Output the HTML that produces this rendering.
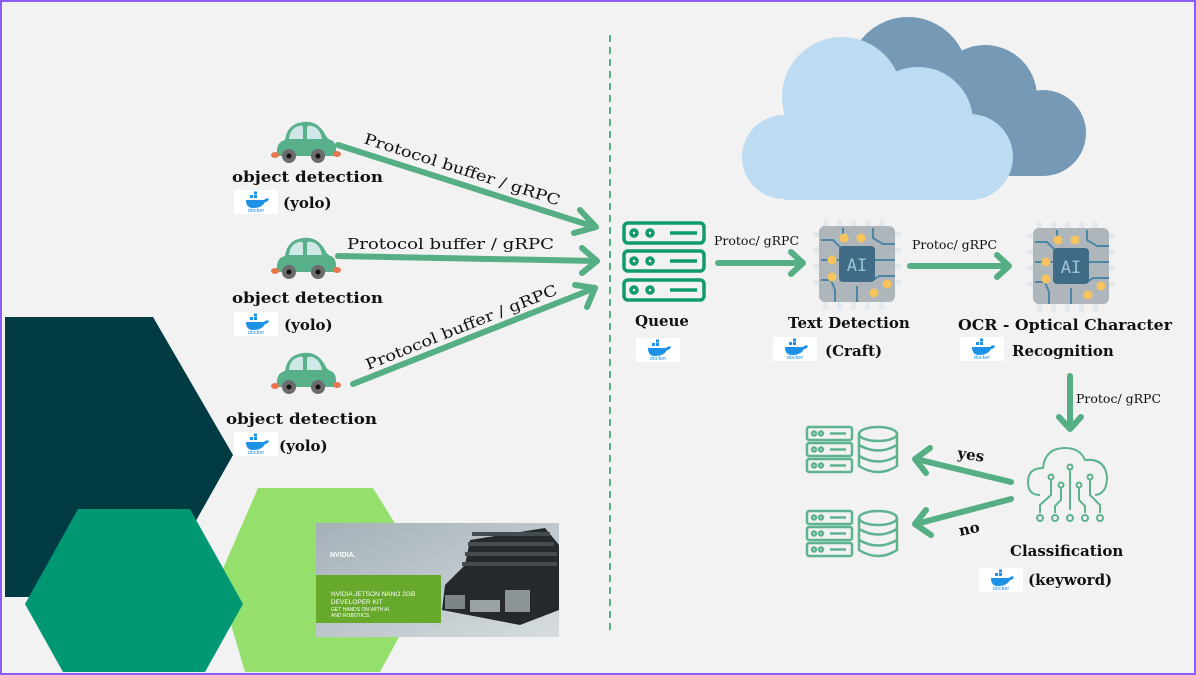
<!DOCTYPE html>
<html><head><meta charset="utf-8"><style>
html,body{margin:0;padding:0;background:#f2f2f2}
svg{display:block}
.b,.n,.s{font-family:"DejaVu Serif","Liberation Serif",serif}
.b{font-weight:bold;font-size:15px;fill:#111}
.n{font-size:15px;fill:#111}
.s{font-size:12.5px;fill:#111}
.sans{font-family:"Liberation Sans",sans-serif}
</style></head><body>
<svg width="1196" height="675" viewBox="0 0 1196 675" xmlns="http://www.w3.org/2000/svg">
<defs>
<g id="car">
 <path d="M6,34 Q5,22 14,20 Q16,4 32,2 Q46,0 54,14 Q56,19 60,20 Q65,22 65,30 L65,36 L6,36 Z" fill="#58b08a"/>
 <path d="M18,19 Q19,8 28,6 Q31,5 32,7 L32,19 Z" fill="#cfe7e6"/>
 <path d="M36,19 L36,7 Q37,5 41,6 Q49,8 51,19 Z" fill="#cfe7e6"/>
 <circle cx="18" cy="36" r="7" fill="#6b6b6b"/><circle cx="18" cy="36" r="2.5" fill="#111"/>
 <circle cx="47" cy="36" r="7" fill="#6b6b6b"/><circle cx="47" cy="36" r="2.5" fill="#111"/>
 <ellipse cx="4" cy="35" rx="4" ry="3" fill="#e8764c"/><ellipse cx="66" cy="34" rx="4" ry="3" fill="#e8764c"/>
</g>
<g id="dock">
 <rect x="0" y="0" width="44" height="24" fill="#fff"/>
 <path d="M12,10 h18 q3,-3 5,-1 q-1,3 -4,3 q-3,6 -12,6 q-7,0 -7,-8z" fill="#1d91e6"/>
 <rect x="16" y="5" width="3" height="3" fill="#1d91e6"/><rect x="20" y="5" width="3" height="3" fill="#1d91e6"/><rect x="20" y="1.5" width="3" height="3" fill="#1d91e6"/>
 <text class="sans" x="22" y="22" font-size="5.5" fill="#1d91e6" text-anchor="middle">docker</text>
</g>
<g id="chip">
 <g fill="#e2e8ec">
  <rect x="10" y="0" width="5" height="8" rx="2"/><rect x="24" y="0" width="5" height="8" rx="2"/><rect x="38" y="0" width="5" height="8" rx="2"/><rect x="52" y="0" width="5" height="8" rx="2"/><rect x="66" y="0" width="5" height="8" rx="2"/>
  <rect x="10" y="82" width="5" height="8" rx="2"/><rect x="24" y="82" width="5" height="8" rx="2"/><rect x="38" y="82" width="5" height="8" rx="2"/><rect x="52" y="82" width="5" height="8" rx="2"/><rect x="66" y="82" width="5" height="8" rx="2"/>
  <rect x="0" y="12" width="8" height="5" rx="2"/><rect x="0" y="28" width="8" height="5" rx="2"/><rect x="0" y="44" width="8" height="5" rx="2"/><rect x="0" y="60" width="8" height="5" rx="2"/>
  <rect x="80" y="12" width="8" height="5" rx="2"/><rect x="80" y="28" width="8" height="5" rx="2"/><rect x="80" y="44" width="8" height="5" rx="2"/><rect x="80" y="60" width="8" height="5" rx="2"/>
 </g>
 <rect x="6" y="6" width="76" height="76" rx="6" fill="#aeb6bb"/>
 <g stroke="#4d86a6" stroke-width="2" fill="none">
  <path d="M8,20 H20 L28,28"/><path d="M60,8 V18 L70,24 H82"/><path d="M8,60 H18 L22,70 V82"/><path d="M44,82 V66"/><path d="M82,56 H66 L60,60"/><path d="M30,8 V20"/><path d="M82,40 H62"/><path d="M8,40 H26"/>
 </g>
 <rect x="26" y="26" width="36" height="36" rx="4" fill="#3f6b86"/>
 <text x="44" y="51" font-size="17" text-anchor="middle" fill="#9ec3d8" font-family="DejaVu Sans Mono,monospace">AI</text>
 <g fill="#f7c35c"><circle cx="31" cy="18" r="4.5"/><circle cx="48" cy="18" r="4.5"/><circle cx="19" cy="40" r="4.5"/><circle cx="19" cy="57" r="4.5"/><circle cx="74" cy="64" r="4.5"/><circle cx="61" cy="73" r="4.5"/></g>
</g>
<g id="srv" fill="none" stroke="#5db38d" stroke-width="2.5">
 <rect x="1" y="1" width="45" height="13" rx="2"/><rect x="1" y="17" width="45" height="13" rx="2"/><rect x="1" y="33" width="45" height="13" rx="2"/>
 <circle cx="8" cy="7.5" r="2"/><circle cx="15" cy="7.5" r="2"/><path d="M24,7.5 H40"/>
 <circle cx="8" cy="23.5" r="2"/><circle cx="15" cy="23.5" r="2"/><path d="M24,23.5 H40"/>
 <circle cx="8" cy="39.5" r="2"/><circle cx="15" cy="39.5" r="2"/><path d="M24,39.5 H40"/>
 <ellipse cx="72" cy="8" rx="19" ry="7"/><path d="M53,8 V40 Q72,52 91,40 V8"/><path d="M53,19 Q72,30 91,19"/><path d="M53,30 Q72,41 91,30"/>
</g>
</defs>

<rect x="1" y="1" width="1194" height="673" fill="#f2f2f2" stroke="#8b5cf6" stroke-width="2"/>

<polygon points="5,317 153,317 233,455 153,597 5,597" fill="#003b44"/>
<polygon points="258,488 373,488 430,580 380,672 245,672 218,580" fill="#95e06c"/>
<polygon points="78,509 190,509 243,604 205,672 63,672 25,604" fill="#009872"/>

<defs><linearGradient id="ng" x1="0" y1="0" x2="1" y2="1"><stop offset="0" stop-color="#a4b0b8"/><stop offset="1" stop-color="#d6dcdf"/></linearGradient></defs>
<rect x="316" y="523" width="243" height="114" fill="url(#ng)"/>
<rect x="316" y="575" width="125" height="48" fill="#67a92a"/>
<text class="sans" x="330" y="557" font-size="7" fill="#fff" font-weight="bold">NVIDIA.</text>
<text class="sans" x="331" y="596" font-size="6.5" fill="#fff">NVIDIA JETSON NANO 2GB</text>
<text class="sans" x="331" y="604" font-size="6.5" fill="#fff">DEVELOPER KIT</text>
<text class="sans" x="331" y="611" font-size="5" fill="#fff">GET HANDS ON WITH AI</text>
<text class="sans" x="331" y="617" font-size="5" fill="#fff">AND ROBOTICS.</text>
<polygon points="470,540 545,528 559,545 559,610 520,625 442,610 445,585 465,565" fill="#25292b"/>
<g fill="#454c50"><rect x="472" y="532" width="78" height="4"/><rect x="468" y="542" width="86" height="4"/><rect x="465" y="552" width="92" height="4"/><rect x="462" y="562" width="95" height="4"/></g>
<rect x="505" y="590" width="25" height="22" fill="#8c9497"/><rect x="470" y="600" width="30" height="12" fill="#9aa2a6"/><rect x="445" y="595" width="20" height="14" fill="#7d8589"/>

<use href="#car" x="271" y="120"/>
<use href="#car" x="271" y="236"/>
<use href="#car" x="271" y="351"/>
<text class="b" x="232" y="182" textLength="151" lengthAdjust="spacingAndGlyphs">object detection</text>
<use href="#dock" x="234" y="190"/><text class="b" x="283" y="208">(yolo)</text>
<text class="b" x="232" y="303" textLength="151" lengthAdjust="spacingAndGlyphs">object detection</text>
<use href="#dock" x="234" y="312"/><text class="b" x="284" y="330">(yolo)</text>
<text class="b" x="226" y="424" textLength="151" lengthAdjust="spacingAndGlyphs">object detection</text>
<use href="#dock" x="234" y="432"/><text class="b" x="279" y="451">(yolo)</text>

<g stroke="#55ae84" stroke-width="6" stroke-linecap="round" stroke-linejoin="round" fill="none">
 <path d="M338,145 L595,227"/><path d="M580,210 L596,227 L574,233"/>
 <path d="M338,256 L596,261"/><path d="M582,248 L597,261 L582,273"/>
 <path d="M353,384 L595,288"/><path d="M575,285 L595,288 L587,307"/>
</g>
<text class="n" transform="translate(363,143) rotate(17.8)" textLength="205" lengthAdjust="spacingAndGlyphs">Protocol buffer / gRPC</text>
<text class="n" x="347" y="249" textLength="207" lengthAdjust="spacingAndGlyphs">Protocol buffer / gRPC</text>
<text class="n" transform="translate(368,370) rotate(-21.8)" textLength="205" lengthAdjust="spacingAndGlyphs">Protocol buffer / gRPC</text>

<line x1="610" y1="35" x2="610" y2="635" stroke="#55ae84" stroke-width="2" stroke-dasharray="7,5"/>

<g fill="#7699b6">
 <circle cx="908" cy="77" r="60"/><circle cx="985" cy="97" r="52"/><circle cx="1043" cy="133" r="43"/>
 <rect x="880" y="100" width="165" height="76"/>
</g>
<g fill="#bddcf2">
 <circle cx="842" cy="97" r="60"/><circle cx="918" cy="122" r="55"/><circle cx="970" cy="157" r="43"/><circle cx="784" cy="157" r="42"/>
 <rect x="784" y="120" width="186" height="80"/>
</g>

<g fill="none" stroke="#0f9b6d" stroke-width="3.5">
 <rect x="624" y="223" width="80" height="20" rx="4"/><rect x="624" y="251" width="80" height="20" rx="4"/><rect x="624" y="280" width="80" height="20" rx="4"/>
 <circle cx="634" cy="233" r="3"/><circle cx="650" cy="233" r="3"/><path d="M670,233 H697"/>
 <circle cx="634" cy="261" r="3"/><circle cx="650" cy="261" r="3"/><path d="M670,261 H697"/>
 <circle cx="634" cy="290" r="3"/><circle cx="650" cy="290" r="3"/><path d="M670,290 H697"/>
</g>
<text class="b" x="635" y="326">Queue</text>
<use href="#dock" x="636" y="338"/>

<use href="#chip" x="813" y="220"/>
<use href="#chip" x="1027" y="222"/>
<g stroke="#55ae84" stroke-width="6" stroke-linecap="round" stroke-linejoin="round" fill="none">
 <path d="M718,263 L802,263"/><path d="M791,252 L803,263 L791,274"/>
 <path d="M910,266 L1008,266"/><path d="M997,255 L1009,266 L997,277"/>
 <path d="M1070,376 L1070,428"/><path d="M1059,417 L1070,429 L1081,417"/>
 <path d="M1011,482 L916,459"/><path d="M930,448 L915,459 L926,473"/>
 <path d="M1011,499 L916,524"/><path d="M926,510 L915,524 L931,535"/>
</g>
<text class="s" x="714" y="245">Protoc/ gRPC</text>
<text class="s" x="912" y="249">Protoc/ gRPC</text>
<text class="s" x="1076" y="403">Protoc/ gRPC</text>

<text class="b" x="788" y="328">Text Detection</text>
<use href="#dock" x="773" y="337"/><text class="b" x="825" y="356">(Craft)</text>
<text class="b" x="958" y="330" textLength="214" lengthAdjust="spacingAndGlyphs">OCR - Optical Character</text>
<use href="#dock" x="960" y="337"/><text class="b" x="1012" y="356">Recognition</text>

<g fill="none" stroke="#5db38d" stroke-width="2">
 <path d="M1040,495 Q1028,495 1028,482 Q1028,468 1043,468 Q1045,448 1065,448 Q1080,448 1085,460 Q1105,458 1107,477 Q1107,494 1095,495"/>
 <circle cx="1070" cy="467" r="2.5"/><path d="M1070,470 V510"/>
 <circle cx="1051" cy="477" r="2.5"/><path d="M1051,480 V495 L1040,505 V513"/>
 <circle cx="1090" cy="477" r="2.5"/><path d="M1090,480 V495 L1100,505 V513"/>
 <circle cx="1061" cy="485" r="2.5"/><path d="M1061,488 V500 L1055,506 V513"/>
 <circle cx="1079" cy="485" r="2.5"/><path d="M1079,488 V500 L1085,506 V513"/>
 <circle cx="1040" cy="518" r="3"/><circle cx="1055" cy="518" r="3"/><circle cx="1070" cy="518" r="3"/><circle cx="1085" cy="518" r="3"/><circle cx="1100" cy="518" r="3"/>
</g>
<text class="b" x="1010" y="556">Classification</text>
<use href="#dock" x="979" y="568"/><text class="b" x="1028" y="585">(keyword)</text>

<text class="b" transform="translate(957,458) rotate(8)">yes</text>
<text class="b" transform="translate(960,536) rotate(-12)">no</text>

<use href="#srv" x="806" y="426"/>
<use href="#srv" x="806" y="510"/>
</svg>
</body></html>
